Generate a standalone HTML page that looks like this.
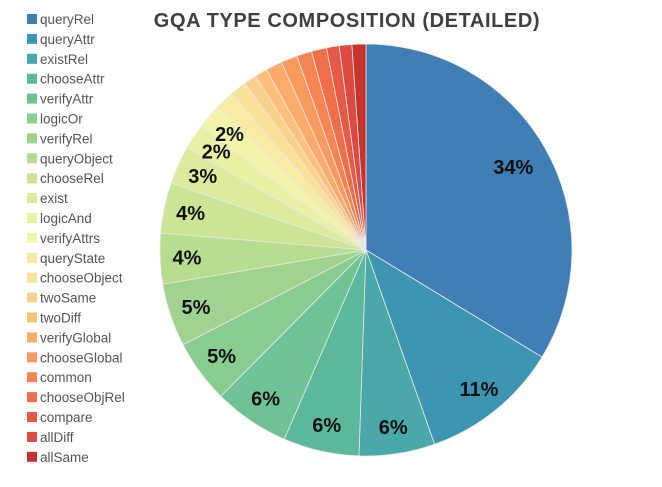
<!DOCTYPE html>
<html><head><meta charset="utf-8"><style>
body{margin:0;background:#fff;width:662px;height:482px;overflow:hidden;font-family:"Liberation Sans",sans-serif}
</style></head><body>
<svg id="chart" width="662" height="482" xmlns="http://www.w3.org/2000/svg">
<text x="347" y="27" text-anchor="middle" font-size="20" font-weight="bold" letter-spacing="0.6" fill="#404040">GQA TYPE COMPOSITION (DETAILED)</text>
<g id="slices"></g><g id="labels"></g><g id="legend"></g>
</svg>
<script>
const categories=["queryRel","queryAttr","existRel","chooseAttr","verifyAttr","logicOr","verifyRel","queryObject","chooseRel","exist","logicAnd","verifyAttrs","queryState","chooseObject","twoSame","twoDiff","verifyGlobal","chooseGlobal","common","chooseObjRel","compare","allDiff","allSame"];
const values=[34,11,6,6,6,5,5,4,4,3,2,2,1.5,1.3,1,1,1.3,1.3,1.2,1.2,1,1,1.1];
const pctLabels=["34%","11%","6%","6%","6%","5%","5%","4%","4%","3%","2%","2%","","","","","","","","","","",""];
const colors=["#3f7fb5","#3e95b2","#4aa8a8","#5cb89c","#6fc294","#88cc8f","#a0d48e","#b7dd90","#cbe595","#dcec9c","#e9f1a3","#f3f4aa","#f7eca1","#fbe097","#fcd18a","#fcc07b","#fbac6d","#f99a5f","#f58553","#ef6f4a","#e75a45","#dc4a42","#c9332d"];
const NS="http://www.w3.org/2000/svg";
const cx=366,cy=250,r=206;
const total=values.reduce((a,b)=>a+b,0);
const sg=document.getElementById('slices'),lg=document.getElementById('labels'),leg=document.getElementById('legend');
function pt(a,rr){return [cx+rr*Math.sin(a),cy-rr*Math.cos(a)];}
let a0=0;
values.forEach((v,i)=>{
  const a1=a0+v/total*2*Math.PI;
  const p0=pt(a0,r),p1=pt(a1,r);
  const large=(a1-a0)>Math.PI?1:0;
  const p=document.createElementNS(NS,'path');
  p.setAttribute('d',`M${cx},${cy}L${p0[0]},${p0[1]}A${r},${r} 0 ${large} 1 ${p1[0]},${p1[1]}Z`);
  p.setAttribute('fill',colors[i]);p.setAttribute('stroke','#e8e8e8');p.setAttribute('stroke-width','0.8');
  
  
  sg.appendChild(p);
  if(pctLabels[i]){
    const m=pt((a0+a1)/2,i===0?r*0.82:r*0.87);
    const t=document.createElementNS(NS,'text');
    t.setAttribute('x',m[0]);t.setAttribute('y',m[1]+7);t.setAttribute('text-anchor','middle');
    t.setAttribute('font-size','20');t.setAttribute('font-weight','bold');t.setAttribute('fill','#111');
    t.textContent=pctLabels[i];
    
    
    lg.appendChild(t);
  }
  const y=19+i*19.9;
  const g=document.createElementNS(NS,'g');
  
  
  const s=document.createElementNS(NS,'rect');
  s.setAttribute('x',27);s.setAttribute('y',y-5);s.setAttribute('width',10);s.setAttribute('height',10);s.setAttribute('fill',colors[i]);
  const lt=document.createElementNS(NS,'text');
  lt.setAttribute('x',40);lt.setAttribute('y',y+5);lt.setAttribute('font-size','13.5');lt.setAttribute('fill','#555');
  lt.textContent=categories[i];
  g.appendChild(s);g.appendChild(lt);leg.appendChild(g);
  a0=a1;
});
</script>
</body></html>
